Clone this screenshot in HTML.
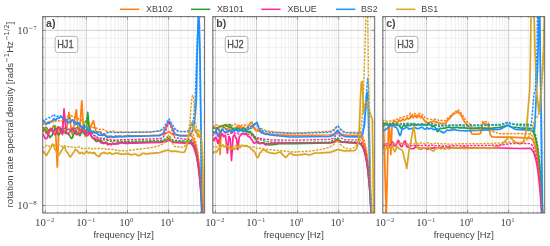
<!DOCTYPE html><html><head><meta charset="utf-8"><style>html,body{margin:0;padding:0;background:#fff;width:550px;height:246px;overflow:hidden}svg{display:block}</style></head><body>
<svg width="550" height="246" viewBox="0 0 550 246">
<rect width="550" height="246" fill="#fff"/>
<defs><clipPath id="c0"><rect x="42.7" y="16.6" width="161.9" height="196.4"/></clipPath></defs>
<path d="M43.42 16.6V213.0M57.67 16.6V213.0M64.91 16.6V213.0M70.04 16.6V213.0M74.03 16.6V213.0M77.28 16.6V213.0M80.03 16.6V213.0M82.42 16.6V213.0M84.52 16.6V213.0M98.77 16.6V213.0M106.01 16.6V213.0M111.14 16.6V213.0M115.13 16.6V213.0M118.38 16.6V213.0M121.13 16.6V213.0M123.52 16.6V213.0M125.62 16.6V213.0M139.87 16.6V213.0M147.11 16.6V213.0M152.24 16.6V213.0M156.23 16.6V213.0M159.48 16.6V213.0M162.23 16.6V213.0M164.62 16.6V213.0M166.72 16.6V213.0M180.97 16.6V213.0M188.21 16.6V213.0M193.34 16.6V213.0M197.33 16.6V213.0M200.58 16.6V213.0M203.33 16.6V213.0M42.7 152.79H204.60000000000002M42.7 121.96H204.60000000000002M42.7 100.08H204.60000000000002M42.7 83.11H204.60000000000002M42.7 69.25H204.60000000000002M42.7 57.52H204.60000000000002M42.7 47.37H204.60000000000002M42.7 38.41H204.60000000000002" stroke="#ececec" stroke-width="0.8" fill="none"/>
<path d="M45.30 16.6V213.0M86.40 16.6V213.0M127.50 16.6V213.0M168.60 16.6V213.0M42.7 30.40H204.60000000000002M42.7 205.50H204.60000000000002" stroke="#c4c4c4" stroke-width="0.8" fill="none"/>
<g clip-path="url(#c0)" fill="none" stroke-linejoin="round" stroke-linecap="butt"><path d="M42.17 128.13 42.91 128.83 43.71 130.31 44.03 130.60 44.35 130.26 45.69 127.66 45.93 127.41 46.17 127.44 46.55 127.93 46.98 128.81 47.82 132.17 48.01 132.58 48.26 132.31 49.28 130.10 49.70 129.49 50.22 129.02 50.61 128.88 50.96 128.95 51.22 129.25 51.81 130.46 51.98 130.58 52.05 130.52 52.95 126.82 53.37 125.94 53.79 125.44 54.10 125.35 54.41 125.53 54.68 125.88 54.99 126.54 55.38 127.73 55.54 128.95 57.30 167.26 58.77 131.77 58.94 130.53 59.52 128.37 59.83 127.73 60.12 127.43 60.41 127.35 60.63 127.56 61.16 129.15 61.81 132.06 62.04 132.60 62.30 132.66 62.80 132.33 63.09 131.95 63.87 130.48 64.16 130.29 64.33 130.29 64.69 130.46 65.09 130.99 65.81 133.30 65.93 133.55 66.03 133.49 67.40 123.76 68.76 113.11 68.93 112.45 69.94 118.82 71.09 128.50 71.77 132.44 72.31 134.30 72.49 134.57 72.69 133.92 73.49 129.25 75.45 114.89 76.38 109.93 77.22 120.00 77.99 127.71 78.76 131.12 79.28 132.42 79.43 132.58 79.48 132.54 81.79 100.95 83.57 129.34 83.77 130.30 84.57 132.39 85.32 136.05 85.51 136.57 86.69 131.33 86.97 130.44 87.15 130.69 87.75 133.04 88.28 134.37 88.47 134.59 88.57 134.58 88.88 134.16 89.60 132.33 90.53 127.93 91.13 125.50 92.03 123.76 92.79 121.66 93.16 121.08 93.42 120.89 93.61 120.98 93.73 121.33 94.54 125.98 95.42 129.63 96.13 131.49 96.66 132.57 97.18 132.90 97.80 132.84 98.15 132.59 98.82 131.67 99.12 131.52 100.86 131.95 101.22 132.43 101.87 134.27 102.31 134.75 102.96 134.91 104.42 134.89 105.11 135.10 106.67 135.88 107.87 137.05 108.47 137.29 110.15 137.11 112.34 137.50 113.06 137.50 114.26 137.26 115.74 137.12 117.91 136.61 119.65 135.88 120.04 135.93 121.03 136.54 121.71 136.69 122.43 136.60 124.56 135.95 125.30 135.89 126.77 135.96 128.46 135.69 130.92 135.89 149.16 135.52 159.65 135.00 164.79 133.99 165.68 133.57 168.22 132.00 168.85 131.76 169.24 131.83 169.63 132.07 172.65 134.65 173.53 134.99 190.01 135.50 190.93 135.67 191.30 135.94 191.77 136.50 193.06 138.64 194.09 140.91 195.02 143.50 195.84 146.38 196.59 149.55 197.31 153.23 198.00 157.42 199.33 167.83 200.15 176.29 200.87 185.27 202.20 206.47 202.89 215.87" stroke="#ff7f0e" stroke-width="1.7" opacity="1"/><path d="M42.10 130.81 42.72 129.70 43.20 129.26 43.82 129.21 44.63 129.68 45.49 130.58 46.09 131.37 47.92 134.86 48.24 135.11 48.80 135.36 49.09 135.64 49.81 137.37 49.99 137.59 50.18 137.49 50.94 136.14 51.81 135.77 52.07 135.50 52.99 132.73 53.96 131.33 54.80 128.76 55.00 128.40 55.29 128.25 55.82 128.46 56.32 129.24 57.01 131.11 57.83 134.24 58.15 134.73 58.49 134.80 59.04 134.50 60.00 133.10 60.96 131.96 61.82 130.50 62.12 130.26 62.49 130.26 62.85 130.46 63.13 130.81 63.80 132.37 64.05 132.67 64.60 132.72 65.88 132.26 66.28 132.34 66.85 132.74 69.49 135.36 70.05 136.18 70.96 137.93 71.39 138.31 71.76 138.28 72.14 138.08 72.55 137.55 73.18 135.16 74.12 133.49 74.84 131.12 75.19 130.53 75.53 130.31 75.87 130.30 76.01 130.39 76.23 130.73 76.95 132.51 77.26 132.81 78.05 133.22 78.41 133.53 79.87 135.58 80.06 135.53 80.21 135.21 81.14 132.40 81.65 131.60 81.95 131.36 82.27 131.38 82.77 131.79 83.78 133.46 84.08 133.79 85.64 134.60 85.89 134.62 86.09 133.92 86.81 125.46 87.71 112.43 88.59 121.47 89.45 132.18 89.62 132.86 90.36 134.07 91.05 135.92 92.26 137.49 94.82 139.87 96.12 141.33 96.51 141.50 97.17 141.46 97.59 141.26 98.50 140.52 98.88 140.39 99.96 140.62 101.05 140.59 101.51 140.95 102.61 142.86 103.14 143.35 103.52 143.55 104.10 143.49 105.78 142.13 106.11 142.00 106.54 142.26 107.59 143.87 108.18 144.24 108.62 144.34 109.06 144.28 109.95 143.97 111.34 143.90 112.75 143.23 113.14 143.32 114.13 143.92 114.81 143.98 115.50 143.79 116.93 142.98 117.36 142.99 118.46 143.23 120.02 142.65 120.99 142.45 123.44 142.74 126.17 142.62 130.16 142.81 135.90 142.47 159.64 141.80 161.12 141.58 164.78 140.80 165.67 140.37 168.21 138.80 168.84 138.56 169.24 138.63 169.62 138.86 172.64 141.44 173.52 141.78 188.50 142.27 189.49 142.23 190.68 142.03 191.32 142.19 192.39 143.18 193.41 144.61 194.08 145.94 194.87 148.05 195.79 151.16 196.54 154.32 197.27 158.00 197.97 162.19 199.27 172.36 200.09 180.57 201.42 198.27 202.17 211.00 202.88 215.86" stroke="#2ca02c" stroke-width="1.7" opacity="1"/><path d="M42.12 133.18 43.90 135.93 44.95 138.17 45.26 138.51 45.64 138.72 46.25 138.68 46.99 138.11 47.37 137.50 48.53 133.95 49.44 131.62 49.99 130.51 50.67 129.54 50.93 129.38 51.16 129.52 51.89 130.98 53.03 132.21 54.19 134.11 54.71 134.56 55.22 134.65 55.78 134.02 56.31 132.91 56.97 131.02 57.81 127.91 58.23 127.39 58.80 127.26 59.18 127.44 59.59 127.97 60.58 131.03 61.54 132.78 62.23 134.32 62.44 134.57 62.57 133.67 64.01 108.94 65.58 125.71 66.38 132.91 66.52 133.52 66.72 133.66 67.39 133.48 68.32 133.69 68.64 133.54 71.35 129.75 71.89 129.33 72.28 129.25 72.77 129.54 73.44 130.53 73.76 130.84 74.75 131.17 75.04 131.44 75.82 133.74 76.15 134.35 76.69 134.72 77.30 134.67 78.33 134.06 79.95 133.49 80.49 133.13 80.79 132.51 81.56 129.87 82.36 127.79 82.76 127.27 83.33 127.14 83.66 127.32 83.98 127.90 84.98 130.98 85.86 134.36 86.29 135.24 86.73 135.72 87.32 135.77 87.86 135.42 88.96 133.24 89.40 132.78 89.71 132.73 89.97 132.96 90.19 133.35 91.72 136.76 92.30 137.55 92.83 138.02 93.50 138.21 94.66 138.19 95.03 138.33 95.32 138.65 95.93 139.67 96.32 139.97 96.61 139.83 97.23 139.25 97.53 139.19 97.68 139.26 98.68 140.54 100.00 141.62 100.95 142.74 101.30 142.99 101.95 143.04 103.55 142.61 103.97 142.70 104.73 143.15 105.10 143.20 106.00 142.74 106.30 142.78 106.55 143.07 107.21 144.34 107.60 144.65 107.92 144.54 108.67 144.04 109.33 143.94 110.02 144.13 111.02 144.73 111.37 144.79 111.68 144.59 112.53 143.48 112.83 143.31 113.15 143.41 114.07 144.11 114.49 144.25 115.44 144.18 116.58 143.77 117.03 143.69 118.33 143.91 118.71 143.74 119.59 142.98 119.98 142.84 121.35 142.99 122.78 142.84 124.20 143.20 125.18 143.34 126.88 143.16 128.32 143.34 130.02 143.13 132.01 143.19 134.50 143.06 140.50 142.99 160.24 142.47 164.95 141.93 168.33 140.36 168.99 140.21 169.63 140.42 172.61 142.22 173.54 142.51 188.50 143.44 190.48 143.46 191.12 143.66 191.48 143.96 192.10 144.73 193.15 146.42 194.01 148.23 194.95 150.81 195.86 153.93 196.55 156.85 197.89 164.23 198.87 171.41 200.11 183.34 201.41 200.55 202.18 213.52 202.38 214.49 202.85 215.86" stroke="#ff2896" stroke-width="1.7" opacity="1"/><path d="M42.13 121.83 42.92 120.94 43.30 120.85 43.69 120.98 44.15 121.47 44.89 123.03 45.29 123.64 45.81 124.09 46.41 124.16 46.79 123.96 47.10 123.63 47.77 122.39 47.98 122.20 48.20 122.32 48.77 123.23 49.00 123.39 49.12 123.36 50.07 122.22 51.13 121.82 51.91 121.25 52.73 120.32 53.66 118.90 53.90 118.67 54.01 118.67 54.22 118.88 54.80 120.12 55.03 120.34 55.15 120.34 55.44 120.14 56.58 118.87 57.14 118.41 57.80 118.18 58.68 118.24 59.06 118.16 60.04 117.19 60.62 116.82 61.20 116.84 61.97 117.31 62.41 117.46 63.93 117.28 64.26 117.48 64.81 118.25 66.08 120.94 67.56 122.56 67.87 122.80 68.19 122.79 69.04 122.27 70.07 122.36 70.48 122.23 71.01 121.77 71.92 120.37 72.26 120.15 72.64 120.15 72.97 120.37 73.20 120.74 74.08 123.03 74.56 123.59 75.50 124.34 75.84 124.45 76.14 124.31 76.86 123.17 77.17 122.94 78.83 122.83 79.19 123.24 79.72 124.87 80.03 125.50 80.35 125.78 81.44 126.27 81.84 126.55 82.87 127.75 83.02 127.81 83.32 127.70 84.22 126.96 84.88 126.65 85.56 126.51 85.96 126.61 86.43 127.08 88.00 129.32 88.76 130.57 89.08 130.87 90.12 131.23 90.91 131.72 91.29 131.86 91.68 131.78 92.43 131.40 92.77 131.44 93.83 132.62 94.20 132.84 94.65 132.90 96.08 132.77 96.50 132.88 97.21 133.49 98.48 134.99 98.83 135.22 99.23 135.25 100.65 135.05 102.80 135.37 103.91 135.05 104.34 135.03 105.13 135.46 106.73 136.97 107.07 137.15 107.42 137.09 108.30 136.38 108.70 136.23 110.08 136.36 111.24 136.21 111.69 136.30 113.22 137.03 113.90 137.14 114.48 136.90 115.30 136.07 115.64 135.92 116.01 136.01 117.01 136.59 117.47 136.69 121.20 136.57 122.68 136.66 123.91 136.58 125.37 136.69 127.03 136.29 128.02 136.20 131.50 136.34 149.50 136.01 158.73 135.56 159.94 135.39 160.59 135.06 162.63 133.62 163.51 132.78 166.65 125.72 168.54 121.93 168.77 121.55 168.99 121.39 169.21 121.53 169.44 121.89 171.44 125.90 174.26 132.84 174.66 133.43 175.03 133.71 179.33 135.69 180.52 135.98 187.51 135.97 188.42 135.69 190.09 134.60 190.85 133.98 191.24 133.38 193.08 129.00 193.49 127.83 195.35 114.21 196.30 99.75 197.21 55.51 198.09 25.27 198.70 13.44 199.30 25.20 200.01 56.44 201.20 139.94 201.80 215.86" stroke="#1e90ff" stroke-width="1.7" opacity="1"/><path d="M42.20 150.94 42.89 150.89 43.41 151.25 45.90 154.95 46.32 155.39 46.57 155.38 46.89 154.90 47.85 152.88 50.24 148.78 51.24 146.76 52.23 144.51 52.56 144.18 52.82 144.31 53.11 144.64 53.75 145.69 54.90 149.47 55.15 149.79 55.86 150.15 56.12 150.47 57.16 153.24 57.75 154.33 58.19 154.83 58.79 154.96 59.33 154.67 59.68 154.07 60.68 151.79 61.97 149.96 63.16 147.77 63.81 147.07 64.35 146.82 64.62 146.93 64.80 147.28 65.62 150.14 65.92 150.81 67.96 153.29 69.39 156.16 69.91 156.61 70.31 156.74 70.66 156.65 70.95 156.35 72.63 153.60 74.00 151.83 75.02 150.13 75.52 149.66 75.86 149.54 76.16 149.68 76.95 150.77 78.03 151.35 78.91 153.01 79.42 153.36 79.85 153.38 80.30 153.24 81.50 152.45 81.86 152.33 82.16 152.45 82.83 153.36 83.17 153.67 83.58 153.82 84.02 153.81 84.44 153.63 84.82 153.34 86.10 151.55 86.45 151.27 86.81 151.16 87.23 151.45 87.80 152.50 88.10 152.85 88.67 153.11 89.06 153.03 89.87 152.36 90.20 152.34 90.95 152.72 91.99 152.95 92.94 153.63 93.19 153.49 93.90 152.42 94.18 152.36 94.50 152.55 94.96 153.09 95.91 154.76 96.24 154.99 97.27 155.33 98.53 156.45 99.03 156.66 99.49 156.33 99.91 155.73 100.77 153.70 100.98 153.40 101.26 153.35 101.79 153.56 102.16 153.57 102.54 153.38 103.62 152.45 103.93 152.34 104.21 152.50 104.72 153.22 104.99 153.44 105.28 153.39 105.78 153.06 106.14 152.99 107.33 153.63 107.74 153.75 108.12 153.67 109.15 152.79 109.78 152.68 110.36 152.97 111.42 153.96 111.85 154.15 112.57 154.26 113.52 154.11 115.25 153.19 116.19 153.02 117.86 153.35 119.01 153.38 119.41 153.54 120.12 154.12 120.50 154.27 121.81 154.06 123.00 154.25 123.74 154.26 125.42 153.88 127.88 153.62 128.81 153.86 130.60 154.72 131.28 154.86 134.18 154.22 134.89 154.15 135.58 154.32 138.27 155.62 138.92 155.77 139.54 155.56 142.35 153.51 142.97 153.21 143.65 153.24 145.79 153.87 146.52 153.91 159.19 152.58 160.41 152.33 164.41 150.91 167.80 150.13 168.74 150.29 171.79 151.36 172.52 151.39 174.49 151.10 175.23 151.09 180.13 152.00 183.57 152.37 183.96 152.24 184.41 151.75 185.65 149.59 186.11 148.44 188.06 139.66 190.50 126.12 191.30 123.27 191.46 122.95 191.66 122.91 192.17 123.54 192.55 124.44 193.50 129.55 193.70 129.35 194.45 127.43 194.65 127.95 195.50 132.56 195.70 132.35 196.32 130.61 196.45 130.43 196.55 130.57 197.50 136.55 197.65 136.32 198.32 133.77 198.49 133.42 198.65 133.77 199.45 137.49 199.52 137.58 199.70 137.50 200.32 136.47 200.41 136.42 200.55 136.55 201.46 141.84 202.51 160.55 203.20 190.05 203.60 215.80" stroke="#daa520" stroke-width="1.7" opacity="1"/><path d="M42.20 124.09 42.90 124.33 43.28 124.30 43.61 124.07 44.61 122.81 44.99 122.71 46.37 122.89 47.08 122.75 47.51 122.54 48.92 121.55 49.58 121.27 50.20 121.30 50.97 121.80 51.37 121.94 52.91 121.67 54.09 121.96 54.80 122.03 55.40 121.83 56.57 120.33 57.17 120.07 57.62 120.07 58.06 120.21 59.01 120.89 59.40 121.02 60.68 120.68 61.57 120.77 61.96 120.72 62.29 120.46 63.02 119.51 63.57 119.02 64.81 118.19 66.14 117.64 67.51 116.35 67.93 116.23 69.13 116.17 70.80 115.76 71.27 115.73 71.95 115.92 73.06 116.49 74.86 117.74 75.29 117.85 76.24 117.83 76.96 117.95 77.61 118.27 78.77 119.07 79.90 119.16 80.55 119.40 81.31 120.02 82.34 121.41 83.03 122.13 83.62 122.57 85.13 123.27 86.72 124.81 87.58 125.26 88.77 125.49 89.46 125.75 92.20 127.45 92.64 127.60 94.80 127.86 96.20 127.88 97.84 128.86 99.50 129.35 100.23 129.39 101.94 129.23 103.17 129.42 104.31 129.87 105.92 131.01 106.61 131.27 107.33 131.42 110.82 131.47 112.76 131.10 113.50 131.08 114.21 131.22 115.30 131.76 115.99 131.94 120.47 131.79 121.96 131.91 123.92 132.21 125.40 132.14 127.13 132.26 149.62 132.00 159.56 131.02 161.22 130.51 164.23 129.30 164.86 128.93 165.46 128.19 168.56 122.79 168.81 122.47 169.06 122.39 169.56 122.98 172.67 128.38 173.14 128.92 173.77 129.26 179.18 131.20 180.13 131.44 189.87 131.50 190.59 131.56 191.01 131.73 191.83 132.59 193.11 134.73 194.13 137.01 195.05 139.61 195.87 142.49 196.61 145.65 197.33 149.33 198.09 154.02 199.42 164.69 200.77 179.88 201.54 191.10 202.89 215.81" stroke="#ff7f0e" stroke-width="1.4" stroke-dasharray="2.4 1.2" opacity="1"/><path d="M42.21 127.99 43.23 127.86 45.06 127.17 45.53 127.13 45.95 127.22 46.31 127.48 47.29 128.52 48.36 128.91 48.74 129.14 49.73 130.47 50.03 130.68 50.21 130.70 50.58 130.56 51.14 130.12 52.52 128.37 53.67 127.44 54.71 126.41 55.10 126.18 55.53 126.10 55.99 126.17 56.43 126.35 59.84 128.70 60.25 128.77 61.36 128.60 62.50 128.74 64.07 128.19 64.75 128.16 65.15 128.34 66.33 129.47 66.76 129.61 68.46 129.78 68.88 129.97 69.82 130.68 70.22 130.80 70.90 130.68 71.78 130.24 73.64 128.71 75.02 128.46 76.36 127.86 77.02 127.69 77.62 127.90 78.80 128.78 80.31 129.65 80.99 129.89 81.67 129.89 82.06 129.70 82.36 129.36 83.37 127.65 84.69 124.14 86.20 119.64 87.15 117.91 87.60 117.40 87.75 117.56 87.85 117.96 89.80 129.78 89.96 130.49 90.16 130.91 91.36 132.06 92.68 134.17 93.65 135.29 94.49 135.77 96.10 136.17 96.44 136.44 97.42 137.79 97.79 137.99 98.88 138.26 100.05 139.00 101.44 139.04 103.50 139.77 106.71 140.16 109.32 141.01 111.01 141.37 111.48 141.34 112.62 140.98 113.09 140.93 115.53 141.10 116.93 141.44 118.34 141.27 119.75 141.48 121.13 141.22 122.72 141.62 125.18 141.46 127.17 141.59 131.39 141.24 133.13 141.26 159.12 140.52 160.84 140.28 163.99 139.46 164.91 139.13 165.72 138.57 168.35 136.29 168.90 136.01 169.25 136.10 169.59 136.38 172.59 139.70 172.97 139.99 173.40 140.17 188.09 141.14 189.08 141.11 190.51 140.79 191.15 140.88 192.03 141.68 193.15 143.33 193.99 145.15 194.93 147.73 195.84 150.85 196.58 154.01 197.96 161.64 199.27 171.80 200.08 180.01 201.42 197.71 202.19 210.69 202.88 215.84" stroke="#2ca02c" stroke-width="1.4" stroke-dasharray="2.4 1.2" opacity="1"/><path d="M42.15 130.16 44.30 132.28 44.92 132.66 45.59 132.81 46.14 132.59 47.09 131.22 47.42 130.91 48.64 130.37 48.94 130.03 49.77 128.55 50.25 128.22 50.66 128.25 51.28 128.55 52.71 130.22 53.30 130.62 53.71 130.74 54.23 130.53 55.23 129.21 55.61 128.97 56.68 128.60 57.81 127.39 58.18 127.20 58.61 127.20 59.24 127.46 59.58 127.78 60.77 129.33 61.37 129.67 61.86 129.67 62.03 129.37 62.15 128.68 64.00 112.43 65.85 126.84 66.01 127.53 66.24 127.87 67.49 128.43 68.48 129.09 68.91 129.20 69.84 129.15 71.12 129.41 71.45 129.24 72.32 128.18 72.87 128.00 73.78 128.16 74.92 128.20 75.31 128.41 76.22 129.18 76.65 129.35 78.60 129.48 80.00 129.88 81.15 130.05 82.36 131.01 82.68 131.00 83.52 130.34 83.69 130.27 84.05 130.31 86.19 131.91 87.05 132.37 87.70 132.41 88.53 132.12 89.11 132.24 90.09 132.94 92.09 133.91 94.25 135.58 96.26 136.45 97.47 137.65 98.08 138.05 98.53 138.21 99.00 138.26 100.46 138.07 101.18 138.08 101.61 138.23 102.55 138.90 102.91 138.98 103.28 138.83 104.22 138.16 104.89 138.09 105.79 138.39 106.99 139.26 107.88 139.65 108.60 139.77 110.06 139.72 111.98 140.18 112.96 140.27 113.94 140.15 115.54 139.63 116.00 139.66 117.41 140.06 118.14 140.11 119.95 139.59 121.14 139.73 122.61 139.68 123.84 139.81 125.56 139.70 129.30 139.82 131.52 139.58 134.02 139.56 159.25 138.62 160.46 138.38 162.53 137.51 163.16 137.17 163.61 136.64 166.39 128.90 168.69 122.04 169.01 121.51 169.17 121.69 169.40 122.31 174.15 136.54 174.58 137.35 174.93 137.59 175.63 137.75 188.01 139.46 189.00 139.54 190.46 139.42 190.91 139.49 191.30 139.71 191.64 140.04 192.79 141.67 193.69 143.45 194.52 145.54 195.77 149.60 196.68 153.49 197.92 160.38 198.77 166.57 200.15 179.75 201.43 196.95 202.18 209.68 202.88 215.84" stroke="#ff2896" stroke-width="1.4" stroke-dasharray="2.4 1.2" opacity="1"/><path d="M42.15 120.85 42.73 120.38 43.11 120.26 44.22 120.45 44.88 120.35 46.11 119.23 48.75 117.52 49.14 117.49 49.90 117.73 50.26 117.64 52.89 115.46 53.66 114.56 53.92 114.39 54.25 114.65 54.77 115.73 55.17 116.33 55.54 116.62 55.94 116.77 56.60 116.67 57.95 116.06 58.89 115.75 59.61 115.63 60.08 115.67 60.52 115.84 60.89 116.12 61.81 117.55 62.29 118.08 62.90 118.33 64.02 118.14 64.68 118.22 65.05 118.46 65.73 119.42 66.01 119.66 66.54 119.58 68.15 118.46 68.79 118.14 69.49 118.06 70.13 118.27 71.22 119.23 72.94 120.18 77.70 123.82 79.54 125.84 80.27 126.51 80.89 126.85 82.33 127.13 83.02 127.38 83.60 127.80 84.43 128.68 84.82 128.91 86.19 129.21 89.42 130.82 89.80 130.80 90.55 130.38 90.93 130.33 92.16 130.90 93.35 131.11 94.74 131.58 96.21 131.76 98.40 132.19 99.07 132.48 101.00 133.61 101.69 133.83 102.43 133.89 105.14 133.53 107.47 132.70 108.20 132.60 109.68 132.58 111.58 132.14 112.56 132.22 114.25 132.58 116.97 132.72 117.96 132.65 119.63 132.31 121.25 132.64 122.95 132.41 127.19 132.31 130.43 132.44 132.92 132.28 149.42 132.10 151.16 131.96 159.58 130.91 160.04 130.75 160.66 130.36 162.80 128.65 163.51 127.96 166.26 123.50 168.58 119.38 168.82 119.07 169.07 119.00 169.43 119.40 171.62 123.30 174.34 127.79 175.32 128.92 177.82 131.32 178.24 131.51 178.96 131.59 185.45 131.59 186.67 131.37 188.75 130.60 189.12 130.30 189.58 129.73 191.53 126.83 191.98 125.96 193.82 116.90 194.06 115.17 195.20 99.71 196.51 55.73 197.79 25.26 198.50 13.44 199.20 25.20 199.80 56.19 200.50 110.19 201.50 215.86" stroke="#1e90ff" stroke-width="1.4" stroke-dasharray="2.4 1.2" opacity="1"/><path d="M42.21 147.96 42.96 147.74 44.99 146.88 45.59 146.47 46.84 145.29 47.24 145.09 47.66 145.07 48.04 145.23 48.77 146.13 49.11 146.40 49.76 146.49 50.48 146.36 51.30 145.89 52.83 144.31 53.45 144.09 54.06 144.28 55.06 145.32 55.86 145.77 56.52 145.70 58.36 145.01 59.08 144.94 60.01 145.16 61.41 146.14 62.32 146.45 63.01 146.40 64.57 145.70 65.16 145.62 65.49 145.83 66.24 146.71 66.82 146.92 68.50 146.68 69.93 146.87 71.36 146.81 72.93 147.32 74.36 147.26 76.28 147.63 77.00 147.57 78.31 147.00 78.73 146.96 79.39 147.18 82.30 148.60 83.74 148.95 84.94 148.81 86.96 147.89 87.66 147.78 88.59 147.98 89.61 148.62 90.01 148.76 91.07 148.50 91.47 148.51 92.55 149.29 92.91 149.40 93.27 149.27 94.24 148.61 94.68 148.48 95.63 148.56 96.71 149.06 97.11 149.15 97.51 149.03 98.30 148.53 98.72 148.38 101.89 148.70 104.25 148.31 104.67 148.46 105.90 149.26 106.80 149.59 107.24 149.58 108.28 149.09 108.71 149.02 110.06 149.37 111.51 149.36 112.71 149.56 114.15 149.50 114.61 149.61 116.20 150.30 117.15 150.54 119.39 150.60 121.09 150.87 122.52 150.71 123.97 150.91 124.95 150.90 129.39 150.25 130.87 150.18 139.80 149.03 149.74 148.01 156.78 146.30 158.46 145.81 162.40 144.22 163.39 143.53 166.47 139.93 168.59 135.42 168.79 135.05 168.99 134.90 169.18 135.07 169.36 135.45 171.65 141.25 173.92 145.42 174.46 146.21 174.83 146.45 175.52 146.60 182.73 147.36 183.66 147.36 184.02 147.17 184.28 146.81 185.91 143.18 187.75 137.73 188.05 136.53 189.99 121.91 191.50 100.21 192.35 95.82 192.46 95.49 192.62 95.43 193.24 96.52 193.55 97.71 194.39 107.92 195.29 121.64 196.31 127.04 196.67 128.49 197.39 130.49 197.57 130.59 197.67 130.52 198.31 129.49 198.50 129.43 198.71 129.87 199.32 132.24 199.54 132.60 199.73 132.46 200.27 131.54 200.44 131.41 200.50 131.47 201.50 138.19 202.51 155.41 203.80 215.85" stroke="#daa520" stroke-width="1.4" stroke-dasharray="2.4 1.2" opacity="1"/></g>
<path d="M43.42 213.0v-1.1M43.42 16.6v1.1M45.30 213.0v-3.0M45.30 16.6v3.0M57.67 213.0v-1.1M57.67 16.6v1.1M64.91 213.0v-1.1M64.91 16.6v1.1M70.04 213.0v-1.1M70.04 16.6v1.1M74.03 213.0v-1.1M74.03 16.6v1.1M77.28 213.0v-1.1M77.28 16.6v1.1M80.03 213.0v-1.1M80.03 16.6v1.1M82.42 213.0v-1.1M82.42 16.6v1.1M84.52 213.0v-1.1M84.52 16.6v1.1M86.40 213.0v-3.0M86.40 16.6v3.0M98.77 213.0v-1.1M98.77 16.6v1.1M106.01 213.0v-1.1M106.01 16.6v1.1M111.14 213.0v-1.1M111.14 16.6v1.1M115.13 213.0v-1.1M115.13 16.6v1.1M118.38 213.0v-1.1M118.38 16.6v1.1M121.13 213.0v-1.1M121.13 16.6v1.1M123.52 213.0v-1.1M123.52 16.6v1.1M125.62 213.0v-1.1M125.62 16.6v1.1M127.50 213.0v-3.0M127.50 16.6v3.0M139.87 213.0v-1.1M139.87 16.6v1.1M147.11 213.0v-1.1M147.11 16.6v1.1M152.24 213.0v-1.1M152.24 16.6v1.1M156.23 213.0v-1.1M156.23 16.6v1.1M159.48 213.0v-1.1M159.48 16.6v1.1M162.23 213.0v-1.1M162.23 16.6v1.1M164.62 213.0v-1.1M164.62 16.6v1.1M166.72 213.0v-1.1M166.72 16.6v1.1M168.60 213.0v-3.0M168.60 16.6v3.0M180.97 213.0v-1.1M180.97 16.6v1.1M188.21 213.0v-1.1M188.21 16.6v1.1M193.34 213.0v-1.1M193.34 16.6v1.1M197.33 213.0v-1.1M197.33 16.6v1.1M200.58 213.0v-1.1M200.58 16.6v1.1M203.33 213.0v-1.1M203.33 16.6v1.1M42.7 205.50h3.0M204.60000000000002 205.50h-3.0M42.7 152.79h1.1M204.60000000000002 152.79h-1.1M42.7 121.96h1.1M204.60000000000002 121.96h-1.1M42.7 100.08h1.1M204.60000000000002 100.08h-1.1M42.7 83.11h1.1M204.60000000000002 83.11h-1.1M42.7 69.25h1.1M204.60000000000002 69.25h-1.1M42.7 57.52h1.1M204.60000000000002 57.52h-1.1M42.7 47.37h1.1M204.60000000000002 47.37h-1.1M42.7 38.41h1.1M204.60000000000002 38.41h-1.1M42.7 30.40h3.0M204.60000000000002 30.40h-3.0" stroke="#777" stroke-width="0.8" fill="none"/>
<rect x="42.7" y="16.6" width="161.9" height="196.4" fill="none" stroke="#6a6a6a" stroke-width="1"/>
<text x="46.1" y="27.2" font-family="Liberation Sans, Arial, sans-serif" font-weight="bold" font-size="10.6" fill="#444">a)</text>
<rect x="55.1" y="36.4" width="22.7" height="16.1" rx="2.6" fill="#fff" stroke="#aaa" stroke-width="0.9"/>
<text x="65.4" y="47.7" text-anchor="middle" font-family="Liberation Sans, Arial, sans-serif" font-size="10.3" fill="#505050" stroke="#505050" stroke-width="0.3" textLength="16.4" lengthAdjust="spacingAndGlyphs">HJ1</text>
<text x="44.70" y="225.8" text-anchor="middle" font-family="Liberation Serif, serif" font-size="10.8" fill="#444">10<tspan font-size="6.0" dy="-3.8" font-family="DejaVu Sans, sans-serif">−</tspan><tspan font-size="6.8">2</tspan></text>
<text x="85.80" y="225.8" text-anchor="middle" font-family="Liberation Serif, serif" font-size="10.8" fill="#444">10<tspan font-size="6.0" dy="-3.8" font-family="DejaVu Sans, sans-serif">−</tspan><tspan font-size="6.8">1</tspan></text>
<text x="126.30" y="225.8" text-anchor="middle" font-family="Liberation Serif, serif" font-size="10.8" fill="#444">10<tspan font-size="6.8" dy="-3.8">0</tspan></text>
<text x="167.40" y="225.8" text-anchor="middle" font-family="Liberation Serif, serif" font-size="10.8" fill="#444">10<tspan font-size="6.8" dy="-3.8">1</tspan></text>
<text x="123.65" y="237.8" text-anchor="middle" font-family="Liberation Sans, Arial, sans-serif" font-size="9.35" fill="#444">frequency [Hz]</text>
<defs><clipPath id="c1"><rect x="212.8" y="16.6" width="161.9" height="196.4"/></clipPath></defs>
<path d="M213.52 16.6V213.0M227.77 16.6V213.0M235.01 16.6V213.0M240.14 16.6V213.0M244.13 16.6V213.0M247.38 16.6V213.0M250.13 16.6V213.0M252.52 16.6V213.0M254.62 16.6V213.0M268.87 16.6V213.0M276.11 16.6V213.0M281.24 16.6V213.0M285.23 16.6V213.0M288.48 16.6V213.0M291.23 16.6V213.0M293.62 16.6V213.0M295.72 16.6V213.0M309.97 16.6V213.0M317.21 16.6V213.0M322.34 16.6V213.0M326.33 16.6V213.0M329.58 16.6V213.0M332.33 16.6V213.0M334.72 16.6V213.0M336.82 16.6V213.0M351.07 16.6V213.0M358.31 16.6V213.0M363.44 16.6V213.0M367.43 16.6V213.0M370.68 16.6V213.0M373.43 16.6V213.0M212.8 152.79H374.70000000000005M212.8 121.96H374.70000000000005M212.8 100.08H374.70000000000005M212.8 83.11H374.70000000000005M212.8 69.25H374.70000000000005M212.8 57.52H374.70000000000005M212.8 47.37H374.70000000000005M212.8 38.41H374.70000000000005" stroke="#ececec" stroke-width="0.8" fill="none"/>
<path d="M215.40 16.6V213.0M256.50 16.6V213.0M297.60 16.6V213.0M338.70 16.6V213.0M212.8 30.40H374.70000000000005M212.8 205.50H374.70000000000005" stroke="#c4c4c4" stroke-width="0.8" fill="none"/>
<g clip-path="url(#c1)" fill="none" stroke-linejoin="round" stroke-linecap="butt"><path d="M212.21 128.42 212.69 128.38 213.02 128.19 213.82 126.55 214.00 126.40 214.19 126.57 214.73 127.87 215.11 128.47 215.69 128.86 216.56 129.20 216.91 129.17 217.06 129.07 217.76 127.65 218.04 127.42 218.32 127.83 219.04 129.67 219.24 131.14 220.11 154.55 221.18 131.66 221.30 130.93 221.55 130.23 222.29 128.66 222.73 128.08 223.51 127.57 224.14 127.58 225.68 128.30 226.05 128.59 226.77 129.52 227.28 129.75 227.66 129.61 227.99 129.31 228.79 127.61 228.97 127.41 229.06 127.43 229.98 129.49 230.36 130.13 231.02 130.79 231.62 130.90 232.08 130.56 232.76 128.77 233.01 128.41 233.19 128.55 233.77 129.79 234.02 130.10 234.35 130.18 234.90 129.89 235.31 129.32 236.54 126.88 236.90 126.41 237.03 126.37 237.29 126.52 238.66 128.45 238.89 128.61 238.99 128.57 239.15 128.30 239.68 126.45 239.91 126.10 240.21 125.96 240.35 125.99 240.57 126.25 241.18 128.60 241.48 129.25 241.74 129.55 241.98 129.60 242.17 129.36 242.93 127.37 243.22 127.11 243.60 127.06 244.17 127.35 244.65 127.89 245.13 128.75 245.77 130.32 246.03 130.58 246.29 130.19 247.19 127.88 247.93 126.31 249.45 124.75 250.73 122.64 251.05 122.33 251.41 122.21 251.74 122.32 252.06 122.85 253.47 127.59 253.75 127.94 254.52 128.41 254.85 128.73 255.90 130.57 256.21 130.71 257.20 130.61 258.52 131.19 259.19 131.34 259.62 131.25 260.42 130.90 260.77 130.95 261.08 131.23 262.60 133.16 262.97 133.44 263.39 133.59 263.85 133.57 264.91 133.27 265.30 133.37 266.05 133.86 266.46 133.94 267.84 133.57 268.55 133.49 270.66 134.03 279.61 134.96 293.84 135.58 329.09 135.01 330.57 134.85 333.70 134.03 334.54 133.53 337.04 131.49 337.62 131.28 338.18 131.54 340.44 133.49 341.04 133.91 341.96 134.24 344.63 134.89 346.12 135.04 358.86 135.46 359.58 135.55 360.00 135.71 360.82 136.58 362.11 138.72 363.13 141.00 364.05 143.59 364.87 146.48 365.61 149.64 366.33 153.32 367.02 157.52 368.34 167.93 369.16 176.39 369.86 185.11 371.21 206.57 371.89 215.80" stroke="#ff7f0e" stroke-width="1.7" opacity="1"/><path d="M212.16 132.86 212.96 132.34 213.38 132.31 214.52 132.55 215.10 132.36 215.76 131.39 216.90 128.98 217.19 128.78 217.74 128.76 218.06 128.62 219.00 127.34 220.64 126.34 221.31 126.12 221.76 126.14 222.98 126.82 223.26 126.65 224.09 125.50 224.63 124.99 225.24 124.63 225.91 124.54 226.50 124.79 227.53 126.37 227.94 126.63 228.25 126.27 228.92 124.76 229.22 124.52 229.62 124.50 230.25 124.77 230.93 125.44 232.06 128.44 232.64 129.22 233.21 129.60 235.11 129.97 235.78 129.95 236.14 129.74 237.20 128.47 237.59 128.27 238.00 128.25 239.99 129.21 240.84 130.51 241.07 130.61 241.32 130.41 242.57 128.65 243.05 128.37 243.98 128.79 244.98 129.10 245.27 129.41 246.27 131.10 246.76 131.63 247.16 131.87 247.84 132.01 248.78 132.02 249.18 131.85 249.84 131.37 250.14 131.40 250.56 131.86 251.79 133.69 253.01 134.39 253.29 135.01 253.97 137.14 254.69 138.42 254.99 138.69 255.71 138.81 255.99 138.98 256.22 139.57 256.83 142.23 257.00 142.64 257.28 142.90 257.93 143.00 261.63 142.89 263.15 142.53 263.77 142.78 264.86 143.68 265.25 143.77 266.14 143.61 266.84 143.68 267.49 143.97 268.63 144.87 269.05 145.01 269.76 145.01 271.48 144.73 273.22 144.61 276.42 144.04 280.38 143.52 294.38 143.59 329.62 142.99 331.33 142.67 333.96 141.91 334.57 141.51 336.88 139.61 337.26 139.37 337.64 139.29 338.21 139.56 340.66 141.65 341.54 142.01 358.97 143.42 360.15 143.70 361.11 144.46 362.20 145.82 363.19 147.55 364.04 149.63 364.82 152.27 365.57 155.43 366.87 162.56 367.79 169.25 369.05 181.18 369.88 191.40 371.18 212.11 371.86 215.80" stroke="#2ca02c" stroke-width="1.7" opacity="1"/><path d="M212.19 138.11 212.95 138.73 213.79 140.42 213.97 140.59 214.21 140.27 215.03 137.98 215.32 137.62 215.65 137.38 215.94 137.36 216.06 137.46 216.48 138.51 217.82 143.27 218.01 143.57 218.18 143.19 219.04 139.84 219.93 138.05 220.85 135.47 221.40 134.42 221.91 134.16 222.44 134.39 222.78 134.97 223.30 136.32 223.64 136.65 224.13 136.41 225.14 135.46 225.38 135.37 225.46 135.45 225.62 136.25 227.40 153.16 228.89 137.12 228.99 136.52 229.04 136.44 229.18 136.51 230.04 138.42 230.32 139.62 231.51 160.56 232.24 150.19 232.95 137.96 233.08 136.98 233.40 136.04 233.90 135.03 234.16 134.92 234.48 135.07 235.02 135.81 235.65 137.89 235.86 138.15 236.39 138.35 236.54 138.65 237.80 149.57 239.22 137.31 239.50 136.65 239.93 136.04 240.95 134.96 241.69 134.00 242.20 133.71 243.56 133.95 244.53 133.98 244.96 133.86 245.82 133.27 246.09 133.31 247.13 135.13 247.87 136.12 248.45 136.55 249.58 136.98 250.13 137.38 251.05 138.82 252.54 140.82 253.66 142.75 254.08 143.17 254.46 143.18 254.88 143.01 257.59 141.40 257.92 141.34 258.28 141.72 258.93 143.02 259.24 143.37 259.63 143.62 260.29 143.72 261.92 143.23 262.87 143.21 263.76 143.57 265.09 144.65 265.97 144.99 266.63 144.89 268.44 143.66 269.08 143.50 270.26 143.59 271.74 143.45 274.48 143.46 280.23 143.20 293.48 143.01 329.97 142.68 333.93 142.16 336.95 140.99 337.64 140.87 338.33 141.03 340.62 142.00 341.58 142.22 358.80 143.14 359.53 143.22 359.97 143.37 360.36 143.64 360.85 144.18 361.98 145.83 362.99 147.84 363.89 150.16 364.75 153.04 365.51 156.20 366.83 163.33 367.80 170.26 369.03 181.94 369.87 192.16 371.17 212.87 371.31 213.85 371.84 215.80" stroke="#ff2896" stroke-width="1.7" opacity="1"/><path d="M212.18 131.11 213.00 131.73 213.80 132.60 214.17 132.76 214.57 132.71 214.95 132.48 215.81 131.45 215.93 131.39 216.16 131.49 216.90 132.94 217.83 136.27 218.10 136.62 218.49 136.34 218.99 135.53 219.93 132.47 220.19 132.12 221.03 131.43 221.77 129.66 222.09 129.30 222.38 129.41 222.70 129.71 223.96 131.45 224.93 131.79 225.71 132.51 225.97 132.62 226.19 132.44 226.80 131.23 227.02 131.05 227.25 131.16 227.78 131.80 228.06 131.92 228.35 131.77 229.03 131.14 229.63 130.88 230.20 131.05 231.50 132.46 231.98 132.65 232.26 132.46 232.95 131.59 234.07 131.25 235.00 130.25 235.40 130.06 236.53 129.86 237.06 130.03 237.82 131.45 238.26 131.75 238.64 131.67 238.99 131.40 239.76 130.20 240.23 129.87 240.63 129.91 241.28 130.21 241.89 130.64 242.78 131.49 243.38 131.80 243.97 131.73 244.78 130.70 245.02 130.58 245.26 130.75 245.90 131.58 246.20 131.63 246.86 131.08 247.74 129.89 248.26 129.39 249.83 128.31 250.96 128.20 251.22 127.93 251.76 126.90 252.02 126.63 252.85 126.69 253.15 126.53 254.27 124.72 255.64 123.76 256.71 122.50 256.93 122.39 257.14 122.78 257.81 125.67 258.66 127.46 259.94 130.71 260.80 132.46 261.08 132.69 261.25 132.71 262.28 132.42 262.72 132.46 263.59 132.88 265.21 133.99 267.12 134.52 268.74 134.38 270.06 134.89 270.53 134.99 272.52 135.09 274.72 135.49 290.15 136.98 294.65 136.99 329.39 136.50 330.83 136.18 333.17 135.30 333.82 134.97 334.50 134.29 337.14 130.67 337.57 130.36 337.86 130.48 338.14 130.81 340.39 134.10 341.02 134.84 341.86 135.31 344.67 136.35 346.39 136.55 358.63 136.95 359.85 136.89 360.49 136.58 361.85 135.51 362.34 134.98 362.54 134.55 364.43 125.26 365.58 110.31 366.47 95.59 366.74 94.12 367.26 92.43 368.30 110.28 370.18 189.26 371.00 215.89" stroke="#1e90ff" stroke-width="1.7" opacity="1"/><path d="M212.12 152.18 212.70 152.95 212.96 153.10 213.21 152.96 213.80 152.01 214.11 151.76 214.71 151.79 215.78 152.22 216.35 152.09 216.98 151.39 217.92 149.40 219.14 148.46 220.71 145.99 221.04 145.77 222.00 145.72 222.68 145.27 222.96 145.18 223.20 145.37 223.87 146.59 224.18 146.85 224.77 146.87 225.12 146.64 225.83 145.75 226.16 145.59 226.54 145.66 227.64 146.04 227.99 146.29 228.99 148.22 229.45 148.78 229.82 149.04 230.23 149.14 230.66 149.05 231.83 148.26 232.45 148.14 233.03 148.43 233.81 149.52 234.04 149.60 234.98 148.38 235.26 148.42 235.85 148.81 236.11 148.73 237.26 146.66 237.70 146.12 238.01 145.96 238.50 146.19 239.61 147.44 240.05 147.63 240.33 147.42 241.34 146.09 241.93 145.69 242.38 145.54 243.05 145.58 244.42 146.11 245.12 146.24 245.56 146.17 246.39 145.83 246.77 145.85 248.02 146.76 249.37 146.86 249.98 147.18 251.25 148.98 251.91 149.72 252.66 150.36 253.73 150.96 254.09 151.27 254.67 152.06 255.30 153.13 256.66 156.61 257.27 157.35 257.75 157.64 258.01 157.53 258.32 156.97 259.93 152.84 260.23 152.57 260.78 152.34 261.09 152.07 261.81 150.56 262.07 150.20 262.44 149.97 262.90 149.86 263.62 149.88 264.07 150.01 266.01 150.96 267.13 151.89 267.54 152.11 270.40 152.86 274.55 153.65 275.03 153.66 275.73 153.50 279.44 152.06 280.07 152.08 280.80 152.64 285.10 157.15 285.61 157.47 285.95 157.39 286.27 157.11 289.37 153.54 289.71 153.23 290.07 153.08 290.67 153.24 293.43 154.92 294.33 155.21 299.80 154.81 304.74 154.08 305.72 154.15 309.15 154.82 309.88 154.88 310.59 154.74 314.31 153.29 315.26 153.04 320.50 152.97 329.97 152.43 336.73 149.85 337.68 149.62 338.40 149.67 344.04 150.80 345.27 150.96 353.76 150.56 354.49 150.49 354.92 150.34 355.46 149.90 356.25 148.93 356.69 148.34 357.01 147.68 358.49 139.83 359.50 124.87 360.40 100.14 361.16 83.91 361.39 82.70 361.90 81.64 362.14 81.43 362.28 82.36 362.99 94.84 363.61 113.54 365.02 105.04 366.28 100.76 366.43 100.46 366.57 100.46 367.99 105.03 369.57 112.10 370.86 115.62 372.02 118.39 372.29 119.58 373.00 160.07 373.60 215.81" stroke="#daa520" stroke-width="1.7" opacity="1"/><path d="M212.19 126.10 212.88 126.40 213.28 126.43 213.64 126.25 214.48 125.42 214.88 125.19 215.58 125.04 216.80 124.99 217.21 125.10 217.54 125.38 218.57 126.97 219.13 127.17 221.27 126.98 222.35 126.47 223.71 126.18 225.00 125.26 226.28 125.29 227.42 124.79 227.74 124.94 228.64 125.97 229.02 126.12 232.11 125.69 232.69 125.39 233.61 124.30 234.21 124.04 234.65 124.07 235.06 124.25 236.10 125.22 236.50 125.41 237.20 125.46 238.62 125.25 239.05 125.36 239.88 125.79 240.33 125.89 240.80 125.85 241.23 125.69 242.34 124.80 242.97 124.67 244.65 124.99 246.19 125.57 247.76 125.25 248.71 125.42 249.81 125.97 251.06 127.16 251.67 127.55 252.60 127.83 255.81 128.15 256.47 128.43 257.66 129.30 258.56 129.61 259.01 129.59 260.63 129.01 261.34 128.92 263.48 129.46 264.77 130.15 265.22 130.29 266.41 130.44 267.59 130.81 269.77 131.30 271.50 131.47 272.96 131.74 280.43 132.41 293.91 132.98 310.15 132.39 329.62 131.39 330.78 131.00 333.68 129.54 334.48 128.96 336.92 126.82 337.29 126.57 337.66 126.50 338.21 126.79 341.54 129.80 344.34 131.89 345.20 132.31 346.42 132.40 359.16 132.38 359.63 132.41 360.06 132.55 360.42 132.83 361.04 133.60 362.21 135.51 363.15 137.56 364.06 140.15 364.88 143.03 365.62 146.20 366.34 149.88 367.10 154.57 368.42 165.23 369.78 180.42 370.53 191.40 371.89 215.83" stroke="#ff7f0e" stroke-width="1.4" stroke-dasharray="2.4 1.2" opacity="1"/><path d="M212.17 128.87 213.02 128.31 213.45 128.16 215.14 128.13 217.07 127.72 217.64 127.31 218.45 126.41 219.05 126.10 219.75 126.08 220.85 126.46 221.24 126.50 221.61 126.33 222.34 125.72 222.75 125.49 223.44 125.36 223.90 125.43 225.25 125.97 227.20 126.22 227.64 126.38 228.66 126.99 229.98 127.22 230.35 127.47 231.23 128.31 232.08 128.78 232.79 128.94 234.53 128.98 235.75 129.17 236.41 129.45 237.19 130.01 237.59 130.15 238.96 129.93 239.93 129.90 241.33 129.62 241.79 129.69 242.43 130.01 243.41 131.06 243.76 131.29 244.15 131.31 245.71 130.74 246.12 130.72 246.47 130.91 247.22 131.81 247.56 132.09 249.13 132.50 251.37 133.55 252.21 134.08 253.33 135.07 255.02 136.88 255.88 137.34 257.05 137.64 257.44 137.83 257.74 138.16 258.44 139.44 258.89 139.87 260.50 139.87 261.23 139.97 264.06 140.94 266.01 141.25 268.41 141.94 269.14 142.05 272.13 142.24 276.13 142.23 294.13 142.59 329.37 142.09 330.08 141.96 330.53 141.77 336.56 138.22 337.39 137.87 337.77 137.95 338.11 138.22 340.72 141.20 341.11 141.46 341.56 141.58 359.03 142.09 359.75 142.18 360.19 142.35 361.27 143.35 362.28 144.77 363.21 146.53 364.04 148.62 364.81 151.26 365.56 154.42 366.94 162.05 368.23 171.96 369.08 180.42 370.41 198.12 371.18 211.10 371.87 215.81" stroke="#2ca02c" stroke-width="1.4" stroke-dasharray="2.4 1.2" opacity="1"/><path d="M212.21 135.05 212.95 135.16 213.36 135.07 215.18 133.50 215.83 133.17 216.53 133.03 216.99 133.07 217.37 133.26 218.44 134.83 218.76 135.09 219.16 135.15 219.85 135.00 220.98 134.54 222.12 134.45 222.50 134.32 222.81 134.03 223.48 133.04 223.97 132.73 225.07 132.84 226.16 132.78 226.49 133.01 227.35 134.13 227.72 134.36 228.16 134.43 228.88 134.34 229.58 134.11 230.20 133.73 230.93 133.13 231.31 132.98 232.83 133.28 234.53 133.04 236.27 132.97 237.47 133.24 239.30 134.48 239.90 134.73 240.30 134.66 241.10 134.18 241.78 133.96 242.46 134.01 243.41 134.63 243.78 134.75 244.16 134.64 245.19 134.08 246.16 133.97 247.63 134.15 249.75 134.84 251.10 134.88 251.43 135.10 252.22 136.29 252.52 136.58 252.91 136.68 253.83 136.67 254.53 136.84 255.65 137.38 257.24 138.44 257.59 138.44 258.58 137.65 258.93 137.62 260.07 138.36 260.52 138.54 262.72 138.88 264.62 139.39 268.35 139.44 270.28 139.87 272.77 140.00 294.51 140.19 329.75 139.37 331.41 138.87 333.28 138.16 333.91 137.81 334.57 137.10 337.06 133.67 337.35 133.36 337.64 133.26 338.06 133.61 340.46 137.09 341.09 137.83 341.92 138.36 344.84 139.75 346.05 139.90 359.05 139.91 359.98 140.08 360.37 140.33 360.88 140.87 362.14 142.72 363.14 144.73 364.03 147.07 364.86 149.95 365.60 153.11 366.94 160.49 368.25 170.65 369.09 179.11 370.43 196.81 371.19 209.79 371.89 215.89" stroke="#ff2896" stroke-width="1.4" stroke-dasharray="2.4 1.2" opacity="1"/><path d="M212.17 128.87 213.00 128.30 213.42 128.19 214.77 128.38 215.69 128.21 216.13 128.22 216.77 128.50 218.26 129.41 219.56 130.50 219.91 130.67 220.24 130.59 220.89 130.00 221.22 129.81 221.59 129.86 222.60 130.39 223.05 130.45 223.51 130.37 223.91 130.16 224.98 129.22 225.40 129.09 225.85 129.11 226.45 129.41 227.82 130.81 228.44 131.17 228.88 131.26 229.57 131.15 231.21 130.64 232.14 129.85 233.43 128.35 233.79 128.09 234.22 127.99 234.89 128.11 236.28 128.95 236.71 128.97 238.12 128.62 238.56 128.62 238.95 128.80 239.93 129.67 240.29 129.66 241.28 129.25 242.56 129.42 243.77 128.84 245.18 128.89 245.88 128.75 246.30 128.52 247.56 127.46 249.43 127.15 250.09 126.84 251.30 126.01 253.15 125.43 253.96 124.89 254.87 123.78 256.04 123.24 256.88 122.40 256.98 122.41 257.16 122.66 258.15 125.67 259.76 128.44 260.05 128.69 260.77 128.69 261.09 128.82 262.01 130.17 262.73 130.83 263.34 131.10 264.63 130.89 266.29 131.69 268.50 131.78 270.15 132.28 271.12 132.45 275.37 132.59 294.09 133.58 329.32 132.31 330.50 132.03 333.81 130.31 334.49 129.61 337.12 125.99 337.56 125.66 337.84 125.77 338.13 126.09 340.52 129.58 341.16 130.33 343.87 132.09 344.96 132.67 346.17 132.84 358.16 133.24 359.40 133.25 359.86 133.16 360.62 132.62 362.48 130.61 362.88 130.01 363.12 129.07 365.49 109.97 366.99 85.27 367.79 78.44 368.39 83.91 368.51 85.90 369.20 129.90 370.80 215.84" stroke="#1e90ff" stroke-width="1.4" stroke-dasharray="2.4 1.2" opacity="1"/><path d="M212.16 146.15 212.91 146.81 213.29 146.99 213.69 146.96 214.75 146.63 216.14 146.94 216.85 146.96 217.46 146.70 218.38 145.59 218.94 145.20 219.88 145.06 222.09 145.12 222.55 145.19 223.64 145.69 224.34 145.88 224.82 145.89 225.95 145.59 226.37 145.60 227.61 146.21 229.69 146.74 230.09 146.71 230.82 146.25 231.16 146.13 231.49 146.26 232.34 147.03 232.97 147.22 233.59 147.05 234.50 145.98 235.01 145.70 236.35 145.99 237.08 146.01 239.46 145.36 241.87 145.16 243.24 145.35 244.60 145.08 245.30 145.23 247.88 146.08 249.27 147.04 249.71 147.21 250.44 147.30 251.43 147.26 253.36 146.85 254.08 146.84 255.01 147.12 256.64 148.21 258.06 148.63 259.03 148.63 260.54 147.96 260.96 147.93 262.33 148.37 263.54 148.57 265.16 149.15 267.81 149.70 269.79 149.65 271.54 149.75 275.50 150.25 284.96 151.19 293.17 151.92 294.92 151.95 310.39 151.13 320.03 149.67 329.01 147.45 329.72 147.23 330.37 146.89 333.58 144.51 334.49 143.65 337.00 140.89 337.48 140.56 337.77 140.64 338.03 140.95 339.72 143.70 340.36 144.46 344.24 147.59 345.30 148.21 349.20 149.03 350.16 149.06 353.91 147.71 354.98 147.15 355.76 146.21 358.00 142.90 359.93 138.03 360.13 136.80 361.97 120.15 364.01 79.71 366.17 6.24 366.24 5.54 366.42 5.21 366.75 5.06 367.14 5.09 367.43 5.28 367.52 5.45 367.62 6.36 369.01 112.35 371.00 189.83 371.79 215.81" stroke="#daa520" stroke-width="1.4" stroke-dasharray="2.4 1.2" opacity="1"/></g>
<path d="M213.52 213.0v-1.1M213.52 16.6v1.1M215.40 213.0v-3.0M215.40 16.6v3.0M227.77 213.0v-1.1M227.77 16.6v1.1M235.01 213.0v-1.1M235.01 16.6v1.1M240.14 213.0v-1.1M240.14 16.6v1.1M244.13 213.0v-1.1M244.13 16.6v1.1M247.38 213.0v-1.1M247.38 16.6v1.1M250.13 213.0v-1.1M250.13 16.6v1.1M252.52 213.0v-1.1M252.52 16.6v1.1M254.62 213.0v-1.1M254.62 16.6v1.1M256.50 213.0v-3.0M256.50 16.6v3.0M268.87 213.0v-1.1M268.87 16.6v1.1M276.11 213.0v-1.1M276.11 16.6v1.1M281.24 213.0v-1.1M281.24 16.6v1.1M285.23 213.0v-1.1M285.23 16.6v1.1M288.48 213.0v-1.1M288.48 16.6v1.1M291.23 213.0v-1.1M291.23 16.6v1.1M293.62 213.0v-1.1M293.62 16.6v1.1M295.72 213.0v-1.1M295.72 16.6v1.1M297.60 213.0v-3.0M297.60 16.6v3.0M309.97 213.0v-1.1M309.97 16.6v1.1M317.21 213.0v-1.1M317.21 16.6v1.1M322.34 213.0v-1.1M322.34 16.6v1.1M326.33 213.0v-1.1M326.33 16.6v1.1M329.58 213.0v-1.1M329.58 16.6v1.1M332.33 213.0v-1.1M332.33 16.6v1.1M334.72 213.0v-1.1M334.72 16.6v1.1M336.82 213.0v-1.1M336.82 16.6v1.1M338.70 213.0v-3.0M338.70 16.6v3.0M351.07 213.0v-1.1M351.07 16.6v1.1M358.31 213.0v-1.1M358.31 16.6v1.1M363.44 213.0v-1.1M363.44 16.6v1.1M367.43 213.0v-1.1M367.43 16.6v1.1M370.68 213.0v-1.1M370.68 16.6v1.1M373.43 213.0v-1.1M373.43 16.6v1.1M212.8 205.50h3.0M374.70000000000005 205.50h-3.0M212.8 152.79h1.1M374.70000000000005 152.79h-1.1M212.8 121.96h1.1M374.70000000000005 121.96h-1.1M212.8 100.08h1.1M374.70000000000005 100.08h-1.1M212.8 83.11h1.1M374.70000000000005 83.11h-1.1M212.8 69.25h1.1M374.70000000000005 69.25h-1.1M212.8 57.52h1.1M374.70000000000005 57.52h-1.1M212.8 47.37h1.1M374.70000000000005 47.37h-1.1M212.8 38.41h1.1M374.70000000000005 38.41h-1.1M212.8 30.40h3.0M374.70000000000005 30.40h-3.0" stroke="#777" stroke-width="0.8" fill="none"/>
<rect x="212.8" y="16.6" width="161.9" height="196.4" fill="none" stroke="#6a6a6a" stroke-width="1"/>
<text x="216.20000000000002" y="27.2" font-family="Liberation Sans, Arial, sans-serif" font-weight="bold" font-size="10.6" fill="#444">b)</text>
<rect x="225.20000000000002" y="36.4" width="22.7" height="16.1" rx="2.6" fill="#fff" stroke="#aaa" stroke-width="0.9"/>
<text x="235.50000000000003" y="47.7" text-anchor="middle" font-family="Liberation Sans, Arial, sans-serif" font-size="10.3" fill="#505050" stroke="#505050" stroke-width="0.3" textLength="16.4" lengthAdjust="spacingAndGlyphs">HJ2</text>
<text x="214.80" y="225.8" text-anchor="middle" font-family="Liberation Serif, serif" font-size="10.8" fill="#444">10<tspan font-size="6.0" dy="-3.8" font-family="DejaVu Sans, sans-serif">−</tspan><tspan font-size="6.8">2</tspan></text>
<text x="255.90" y="225.8" text-anchor="middle" font-family="Liberation Serif, serif" font-size="10.8" fill="#444">10<tspan font-size="6.0" dy="-3.8" font-family="DejaVu Sans, sans-serif">−</tspan><tspan font-size="6.8">1</tspan></text>
<text x="296.40" y="225.8" text-anchor="middle" font-family="Liberation Serif, serif" font-size="10.8" fill="#444">10<tspan font-size="6.8" dy="-3.8">0</tspan></text>
<text x="337.50" y="225.8" text-anchor="middle" font-family="Liberation Serif, serif" font-size="10.8" fill="#444">10<tspan font-size="6.8" dy="-3.8">1</tspan></text>
<text x="293.75" y="237.8" text-anchor="middle" font-family="Liberation Sans, Arial, sans-serif" font-size="9.35" fill="#444">frequency [Hz]</text>
<defs><clipPath id="c2"><rect x="382.8" y="16.6" width="161.9" height="196.4"/></clipPath></defs>
<path d="M383.52 16.6V213.0M397.77 16.6V213.0M405.01 16.6V213.0M410.14 16.6V213.0M414.13 16.6V213.0M417.38 16.6V213.0M420.13 16.6V213.0M422.52 16.6V213.0M424.62 16.6V213.0M438.87 16.6V213.0M446.11 16.6V213.0M451.24 16.6V213.0M455.23 16.6V213.0M458.48 16.6V213.0M461.23 16.6V213.0M463.62 16.6V213.0M465.72 16.6V213.0M479.97 16.6V213.0M487.21 16.6V213.0M492.34 16.6V213.0M496.33 16.6V213.0M499.58 16.6V213.0M502.33 16.6V213.0M504.72 16.6V213.0M506.82 16.6V213.0M521.07 16.6V213.0M528.31 16.6V213.0M533.44 16.6V213.0M537.43 16.6V213.0M540.68 16.6V213.0M543.43 16.6V213.0M382.8 152.79H544.7M382.8 121.96H544.7M382.8 100.08H544.7M382.8 83.11H544.7M382.8 69.25H544.7M382.8 57.52H544.7M382.8 47.37H544.7M382.8 38.41H544.7" stroke="#ececec" stroke-width="0.8" fill="none"/>
<path d="M385.40 16.6V213.0M426.50 16.6V213.0M467.60 16.6V213.0M508.70 16.6V213.0M382.8 30.40H544.7M382.8 205.50H544.7" stroke="#c4c4c4" stroke-width="0.8" fill="none"/>
<g clip-path="url(#c2)" fill="none" stroke-linejoin="round" stroke-linecap="butt"><path d="M382.20 122.57 382.63 122.64 383.04 123.09 383.40 123.98 383.53 124.96 386.30 215.55 388.47 127.11 388.61 125.88 389.17 124.46 389.23 124.42 389.31 124.59 389.36 125.24 390.80 154.56 392.18 123.84 392.33 123.15 392.59 122.77 394.15 121.58 394.76 121.28 395.16 121.30 395.72 121.66 396.60 122.49 397.11 122.67 397.45 122.49 397.91 121.97 398.74 120.21 399.04 119.90 399.25 120.06 399.87 120.97 400.39 121.15 400.81 121.01 401.40 120.60 402.90 118.90 403.15 118.96 403.74 119.86 404.21 120.18 404.82 120.04 405.64 119.51 406.90 117.91 407.16 117.92 408.06 118.82 408.47 118.93 408.91 118.87 409.51 118.52 409.97 117.97 410.80 115.70 411.05 115.41 411.24 115.61 412.00 117.08 412.31 117.43 412.67 117.65 413.01 117.66 413.32 117.43 414.57 115.65 414.98 115.37 415.23 115.53 416.43 117.31 416.73 117.58 417.00 117.61 417.23 117.36 417.98 115.86 418.27 115.51 418.57 115.35 418.87 115.46 419.16 115.77 420.22 117.41 420.49 117.65 420.99 117.53 421.81 116.88 422.08 116.92 423.22 118.96 425.09 121.29 425.89 121.86 428.36 122.91 428.80 122.96 429.24 122.85 431.08 121.71 431.49 121.63 432.15 121.72 432.57 121.67 433.49 121.05 433.87 120.95 434.27 121.06 436.17 122.15 437.35 122.34 438.69 122.86 440.36 123.20 442.14 123.97 442.72 123.89 443.41 123.33 443.76 123.19 444.12 123.28 444.68 123.62 445.05 123.70 445.59 123.41 446.24 122.69 447.22 120.69 447.62 120.08 449.85 118.12 452.53 114.85 454.75 113.29 456.54 112.69 457.63 111.79 457.94 111.65 458.22 111.79 459.05 112.92 460.14 113.89 460.75 114.68 463.86 120.65 464.52 121.70 467.11 125.05 469.28 127.11 469.90 127.87 470.24 128.78 471.36 133.12 471.71 133.66 472.10 133.85 474.29 134.19 475.29 134.25 479.51 133.88 479.97 133.79 480.33 133.60 480.55 133.25 480.68 132.80 482.09 125.70 483.24 123.24 483.50 122.94 483.85 122.87 484.71 123.18 486.02 123.89 487.74 125.33 488.38 126.06 488.70 126.97 490.26 134.30 490.56 134.96 491.42 136.19 491.90 136.71 492.30 136.91 493.25 137.01 499.25 137.09 510.25 137.12 528.73 138.04 530.41 138.05 530.83 138.17 531.21 138.43 532.05 139.34 533.03 140.78 533.92 142.57 534.68 144.69 535.43 147.33 536.18 150.49 536.90 154.17 538.18 162.57 539.08 170.27 540.34 184.46 541.10 195.44 541.80 207.42 542.49 215.84" stroke="#ff7f0e" stroke-width="1.7" opacity="1"/><path d="M382.19 126.91 383.06 126.37 383.75 125.66 384.14 125.04 384.74 123.70 385.10 123.34 385.43 123.41 386.66 124.11 388.50 124.72 388.93 124.68 389.75 124.30 390.16 124.25 391.69 124.90 392.33 125.02 392.71 124.88 393.54 124.12 393.91 124.01 394.51 124.22 395.93 125.10 396.37 125.14 397.32 125.04 398.03 125.14 399.07 125.76 400.83 127.84 401.15 128.14 401.46 128.25 401.86 127.92 403.06 126.06 403.56 125.54 403.90 125.33 404.25 125.37 404.98 125.85 405.39 125.98 406.06 125.88 407.48 125.10 407.86 125.13 408.88 125.60 409.33 125.60 410.00 125.37 411.40 124.41 412.07 124.25 412.68 124.43 413.67 125.29 414.02 125.27 414.94 124.79 416.29 125.22 416.67 125.07 417.45 124.56 418.13 124.40 418.84 124.48 419.75 124.78 420.43 124.79 421.11 124.54 422.32 123.90 422.66 123.99 423.42 124.81 423.74 125.03 425.09 124.79 426.04 125.35 426.46 125.45 426.89 125.38 427.33 125.19 428.41 124.27 428.76 124.13 429.11 124.24 430.07 124.93 431.14 125.48 432.38 126.79 432.52 126.82 432.81 126.66 433.40 125.98 433.69 125.79 434.15 125.98 435.02 127.14 436.67 130.49 437.20 131.30 437.60 131.59 438.00 131.28 439.53 128.74 439.94 128.26 440.28 128.21 441.10 128.53 441.80 128.63 442.51 128.50 443.64 128.10 445.24 128.20 448.48 127.06 449.18 127.10 450.78 127.73 451.23 127.81 452.59 127.60 453.49 127.80 453.94 127.81 454.85 127.57 456.27 127.54 457.39 127.28 457.82 127.36 458.67 127.75 459.14 127.86 461.61 127.78 464.85 127.87 466.79 128.21 469.78 128.36 480.01 127.92 490.00 128.37 499.94 127.37 507.11 125.20 507.81 125.08 508.47 125.25 510.78 126.69 511.71 126.97 519.91 127.88 530.12 128.38 530.76 128.56 531.13 128.85 531.77 129.60 532.85 131.28 533.83 133.30 534.67 135.66 535.49 138.54 536.22 141.71 536.94 145.39 537.70 150.08 538.94 160.00 539.77 168.46 541.11 186.66 542.47 212.37 542.65 213.60 543.15 215.81" stroke="#2ca02c" stroke-width="1.7" opacity="1"/><path d="M382.21 147.64 382.68 147.65 383.00 147.49 383.94 145.60 384.26 145.30 384.68 145.13 385.64 145.10 386.32 145.33 387.92 146.66 388.27 146.65 389.69 145.95 390.03 145.68 390.29 145.30 391.52 142.86 392.09 142.10 392.36 141.89 392.60 141.96 392.90 142.50 393.93 145.53 394.38 145.94 394.98 145.93 395.52 145.52 395.97 144.94 397.88 141.15 398.23 140.57 398.43 140.40 398.68 140.72 399.45 143.31 400.04 144.95 400.69 146.01 401.38 146.63 401.91 146.69 402.17 146.43 404.02 142.11 404.56 141.30 404.88 140.99 405.15 140.86 405.42 141.19 406.25 144.79 406.71 146.21 407.03 146.80 407.37 147.01 408.52 147.11 408.94 147.24 410.11 148.31 412.45 148.74 412.93 148.74 413.62 148.56 415.41 147.26 415.83 147.04 416.26 146.94 416.70 147.01 418.76 147.81 421.13 149.04 421.68 148.90 422.49 148.06 423.04 147.80 425.57 148.40 426.88 149.01 427.33 149.11 428.27 148.95 430.04 148.14 432.49 148.19 434.33 147.67 436.76 147.97 437.47 147.85 438.38 147.52 439.10 147.44 439.82 147.54 440.94 147.98 441.33 148.03 441.69 147.86 442.46 147.01 442.76 146.82 442.89 146.83 443.16 147.04 444.07 148.42 444.60 148.69 445.48 148.46 447.03 147.29 447.93 147.04 448.62 147.14 449.68 147.70 450.12 147.83 451.54 147.71 453.27 147.84 455.50 147.72 457.19 147.97 458.42 147.89 459.91 147.95 462.59 147.47 465.08 147.45 467.56 147.67 480.05 147.99 499.80 148.00 519.80 148.49 530.25 148.45 530.69 148.53 531.44 149.07 532.52 150.43 533.40 151.94 534.20 153.77 534.90 155.91 535.62 158.57 536.28 161.49 537.11 165.91 538.34 174.32 539.66 186.75 540.42 195.97 541.79 215.86" stroke="#ff2896" stroke-width="1.7" opacity="1"/><path d="M382.11 131.42 382.66 130.57 382.96 130.31 383.30 130.27 383.89 130.40 384.30 130.36 384.90 130.00 385.79 129.19 386.97 128.72 388.05 127.23 389.31 126.73 390.59 125.69 391.02 125.55 391.96 125.50 393.09 125.30 393.60 125.58 394.60 126.88 394.98 127.05 395.64 127.13 396.03 127.29 396.64 127.99 397.96 130.09 399.12 133.91 399.70 135.26 399.99 135.60 400.27 135.28 400.89 133.69 401.83 129.81 402.13 129.22 402.69 128.94 404.06 128.79 405.62 127.65 406.28 127.37 406.75 127.31 407.20 127.37 407.57 127.59 408.40 128.75 408.85 129.07 410.06 128.66 411.98 128.58 414.35 127.82 415.30 127.65 415.93 127.81 417.05 128.65 417.70 128.72 419.36 128.23 421.10 127.33 421.54 127.21 422.00 127.25 422.66 127.51 423.03 127.80 424.15 129.06 424.75 129.27 425.21 129.21 425.64 129.04 426.82 127.89 427.13 127.74 427.45 127.87 428.43 128.81 428.81 128.91 429.24 128.82 430.59 128.24 431.22 128.17 431.61 128.35 432.93 129.44 433.52 129.71 433.93 129.66 435.25 129.12 437.12 128.76 437.68 129.04 438.69 130.09 439.95 130.85 440.94 131.59 442.27 132.09 443.26 132.71 443.63 132.82 444.02 132.71 444.60 132.30 445.75 131.34 446.72 130.25 447.28 130.01 448.91 130.38 449.64 130.44 451.08 130.17 452.31 130.06 453.50 129.77 454.23 129.73 455.95 129.96 457.57 130.48 459.02 130.48 460.97 130.76 463.22 130.77 466.21 130.93 499.41 129.31 500.13 129.17 500.81 128.89 503.94 127.32 506.79 125.76 507.67 125.49 508.35 125.65 510.63 126.65 514.49 128.96 515.40 129.28 524.87 129.80 528.61 130.16 530.09 130.36 532.71 131.03 533.36 130.87 533.96 130.46 534.29 130.13 534.52 129.73 534.66 128.78 537.48 70.35 538.29 40.11 538.61 15.87 538.96 6.13 539.05 5.47 539.20 5.25 539.30 5.25 539.44 5.47 539.53 6.13 539.80 16.37 540.20 56.12 541.50 130.36 542.50 215.83" stroke="#1e90ff" stroke-width="1.7" opacity="1"/><path d="M382.21 147.57 382.69 147.58 383.01 147.77 383.95 149.64 384.28 149.88 384.68 149.91 385.28 149.62 385.78 149.10 386.94 146.92 387.43 146.44 387.96 146.32 388.27 146.53 389.17 147.60 389.57 147.77 389.97 147.74 390.49 147.35 391.71 145.57 391.93 145.40 392.12 145.54 392.29 145.91 393.50 149.43 394.40 151.20 394.73 151.59 394.93 151.50 395.12 151.17 396.76 146.76 397.04 146.39 397.27 146.50 398.27 147.82 398.98 148.51 401.77 150.04 402.37 150.78 403.05 152.37 404.22 158.25 405.51 162.29 406.63 167.91 406.80 168.35 408.98 150.31 410.28 144.97 412.60 131.93 413.78 126.43 413.92 126.96 414.58 131.90 415.50 139.85 416.88 147.19 417.14 147.70 418.01 147.92 418.89 148.90 419.26 149.06 420.14 148.87 422.28 147.74 422.68 147.76 423.69 148.24 424.13 148.26 426.24 147.61 428.42 147.37 428.85 147.48 429.40 147.90 430.05 148.66 430.72 149.68 431.03 149.98 432.02 150.32 432.72 150.86 433.06 150.99 433.41 150.88 433.77 150.60 435.19 148.88 435.71 148.41 436.07 148.29 437.03 148.64 437.37 148.60 438.26 147.63 438.56 147.45 438.88 147.54 440.14 148.60 440.57 148.79 441.00 148.85 441.40 148.72 442.35 148.10 442.78 148.03 444.68 148.40 445.41 148.34 446.62 148.08 447.59 148.08 448.03 148.22 449.01 148.83 449.38 148.86 450.64 148.01 451.03 148.00 452.08 148.30 452.48 148.19 453.26 147.70 453.67 147.58 454.11 147.64 455.49 148.15 456.18 148.26 457.48 147.89 458.94 148.30 460.54 148.00 464.23 148.44 467.22 148.45 479.71 148.02 489.94 148.43 490.91 148.22 498.57 145.93 499.96 145.41 500.75 144.82 504.65 141.31 508.38 137.64 508.74 137.37 509.12 137.28 509.93 137.63 511.99 139.04 515.56 142.53 516.37 143.05 519.02 143.75 519.98 143.88 521.41 143.53 522.74 142.96 523.03 142.63 523.23 142.20 524.45 138.14 526.39 129.86 529.67 90.25 530.40 60.01 530.99 16.52 531.57 5.80 531.79 5.23 532.33 5.04 532.92 5.16 533.22 5.65 534.17 15.82 535.00 49.81 535.80 70.05 536.29 89.54 539.00 112.36 540.24 99.53 542.52 69.61 543.42 49.38 544.00 29.89 544.60 5.17" stroke="#daa520" stroke-width="1.7" opacity="1"/><path d="M382.19 120.10 382.88 120.44 383.31 120.52 384.39 120.23 384.81 120.24 386.05 120.91 386.99 121.17 391.16 121.04 392.67 120.34 394.84 119.94 396.33 119.19 397.73 118.99 399.82 117.76 400.26 117.68 401.39 117.70 402.73 117.16 404.89 116.61 406.11 116.45 406.81 116.25 408.70 115.09 409.19 114.57 409.86 113.56 410.20 113.28 410.61 113.16 411.02 113.24 411.56 113.66 412.77 115.46 413.04 115.65 413.34 115.56 413.82 115.08 414.70 113.64 414.93 113.41 415.05 113.39 415.29 113.59 416.50 115.37 416.97 115.66 417.42 115.38 418.82 113.45 419.14 113.31 419.31 113.34 419.85 113.70 420.83 115.06 421.17 115.27 421.79 115.23 422.81 114.80 423.15 114.89 423.74 115.58 424.96 117.66 425.32 117.84 426.40 118.04 427.57 118.79 428.72 118.90 430.30 119.39 432.75 119.11 434.23 119.23 436.21 119.23 437.14 119.48 438.51 120.38 438.93 120.40 440.06 120.19 441.44 120.49 443.40 120.43 444.99 120.77 445.61 120.51 446.35 119.87 448.86 116.78 451.09 115.20 452.35 114.42 453.79 112.76 455.85 111.39 457.29 110.05 457.68 109.83 458.07 109.80 458.44 109.98 459.14 110.64 460.68 112.61 462.00 114.09 465.92 120.76 466.44 121.28 469.96 124.06 474.52 130.30 474.84 130.63 475.22 130.82 475.90 130.81 478.83 130.23 479.53 130.04 479.89 129.80 480.33 128.99 482.81 121.67 483.20 121.23 483.59 121.16 487.23 121.86 487.65 122.03 487.96 122.31 488.28 123.19 489.82 129.76 489.98 130.20 490.25 130.54 491.10 130.94 499.21 133.45 500.18 133.66 501.18 133.70 509.93 133.70 519.92 133.52 528.65 134.13 530.12 134.14 530.78 134.31 531.65 135.13 532.80 136.77 533.81 138.77 534.58 140.88 535.48 144.01 536.22 147.17 536.93 150.85 537.66 155.29 539.02 166.21 540.35 181.15 541.11 192.12 542.49 215.82" stroke="#ff7f0e" stroke-width="1.4" stroke-dasharray="2.4 1.2" opacity="1"/><path d="M382.20 123.08 382.93 123.29 383.37 123.30 384.62 122.83 386.04 123.32 387.32 122.87 388.03 122.84 388.75 122.99 390.59 123.74 391.27 123.89 391.71 123.82 392.56 123.44 393.00 123.36 394.63 123.76 395.36 123.81 396.99 123.36 397.71 123.33 400.09 123.87 400.81 123.78 402.49 123.33 402.96 123.31 403.67 123.46 405.50 124.11 406.13 123.97 407.42 123.30 408.38 123.15 409.10 123.25 410.98 123.88 411.44 123.95 413.07 123.53 414.03 123.46 414.48 123.58 415.52 124.19 416.21 124.37 417.19 124.35 419.92 124.05 423.89 124.41 424.88 124.34 426.60 124.02 428.36 123.23 428.80 123.17 430.47 123.48 432.94 123.50 435.52 124.35 437.18 124.40 438.70 125.05 440.65 125.10 442.57 125.48 443.01 125.43 444.26 124.93 444.67 125.02 445.49 125.40 445.89 125.40 446.88 124.87 447.29 124.80 448.86 125.18 451.28 124.73 453.71 125.10 454.19 125.10 455.59 124.80 457.20 125.11 458.90 124.84 460.39 124.77 462.85 125.06 466.34 124.95 479.58 125.00 499.33 124.51 500.57 124.38 504.49 123.60 507.82 122.66 508.50 122.79 510.75 123.83 511.72 124.01 529.94 124.48 530.40 124.51 530.81 124.68 531.82 125.72 533.02 127.62 533.97 129.65 534.85 132.26 535.92 136.37 536.78 140.53 537.57 145.21 538.19 149.67 539.11 157.62 540.40 172.31 541.74 193.52 542.49 208.75 543.19 215.87" stroke="#2ca02c" stroke-width="1.4" stroke-dasharray="2.4 1.2" opacity="1"/><path d="M382.19 144.40 383.35 143.91 385.79 143.75 387.42 144.05 388.83 143.81 391.27 143.92 392.89 144.29 393.57 144.14 395.35 143.29 396.04 143.18 398.48 143.57 401.17 143.39 401.60 143.52 402.55 144.23 402.96 144.42 405.12 144.46 407.07 144.89 408.54 145.10 409.93 145.56 411.63 145.59 413.09 145.82 417.05 145.80 418.41 145.30 419.12 145.18 420.36 145.26 422.58 145.62 423.32 145.63 424.05 145.52 425.60 145.00 426.00 145.10 427.19 145.84 427.88 145.90 428.58 145.73 429.84 145.06 430.28 145.00 431.44 145.21 432.83 145.13 434.02 145.83 434.43 145.93 436.03 145.61 439.25 145.69 439.99 145.78 441.39 146.21 441.88 146.25 442.61 146.16 444.00 145.70 444.47 145.63 445.44 145.74 446.87 146.12 447.35 146.14 449.07 145.97 451.05 146.07 452.70 145.71 454.40 145.81 456.88 145.55 461.10 145.87 462.83 145.71 465.08 145.65 467.32 145.71 499.57 145.20 509.96 143.73 519.44 143.23 528.68 143.65 530.15 143.64 530.60 143.73 530.99 143.95 531.51 144.47 532.55 145.87 533.51 147.62 534.27 149.47 535.29 152.81 536.06 155.97 537.39 163.09 538.37 170.03 539.63 181.96 540.47 192.17 541.77 212.88 541.91 213.87 542.44 215.81" stroke="#ff2896" stroke-width="1.4" stroke-dasharray="2.4 1.2" opacity="1"/><path d="M382.19 125.11 382.88 125.45 383.54 125.57 384.71 125.35 386.42 125.40 388.37 125.10 390.03 125.39 392.48 125.38 392.95 125.32 394.24 124.90 394.63 125.02 395.39 125.52 395.76 125.59 397.06 124.84 397.45 124.85 398.51 125.29 398.96 125.30 401.36 124.88 402.71 124.40 403.15 124.41 404.05 124.69 404.52 124.73 407.19 124.21 408.41 124.08 409.37 124.28 411.44 125.04 412.39 124.95 414.25 124.41 415.86 124.88 416.59 125.00 419.08 124.95 421.31 125.12 422.30 125.01 423.99 124.64 424.47 124.64 425.65 124.86 426.12 124.82 428.21 124.10 428.66 124.05 429.35 124.23 430.90 125.00 431.58 125.22 435.50 125.08 435.94 125.23 437.34 126.20 438.50 126.52 442.60 125.84 443.06 125.88 444.17 126.23 444.62 126.20 445.75 125.87 448.17 126.17 449.84 125.85 451.50 125.91 452.66 125.58 453.14 125.53 455.54 125.96 457.20 125.65 459.68 125.65 465.41 126.03 499.39 125.20 500.84 124.88 506.88 122.51 507.57 122.37 508.26 122.51 510.55 123.49 511.50 123.80 520.04 125.66 528.53 125.97 530.25 125.73 531.06 125.38 531.27 125.03 531.42 124.08 533.78 95.43 533.97 94.46 535.17 90.38 535.33 89.15 536.99 50.19 537.40 16.44 537.75 6.45 537.92 5.33 538.19 5.11 538.71 5.16 538.93 5.44 539.05 6.11 539.50 16.09 540.20 60.09 541.00 120.08 541.80 215.82" stroke="#1e90ff" stroke-width="1.4" stroke-dasharray="2.4 1.2" opacity="1"/><path d="M382.21 144.03 383.22 144.22 384.81 144.86 386.03 144.93 387.21 144.61 388.63 143.64 389.29 143.30 389.99 143.07 390.97 142.94 391.72 142.98 392.44 143.13 394.19 144.05 394.83 144.26 395.24 144.19 396.25 143.58 396.95 143.36 398.66 143.33 400.08 143.15 401.00 143.42 402.44 144.26 403.74 144.19 404.92 144.72 405.31 144.66 406.34 144.08 407.04 143.85 409.01 143.67 410.93 143.29 411.37 143.35 412.60 143.99 414.54 144.02 416.17 144.24 417.48 143.46 417.88 143.48 418.51 143.66 418.93 143.64 420.21 143.04 420.93 142.92 421.64 143.00 422.78 143.44 423.75 143.62 424.46 143.54 425.84 143.09 428.28 142.87 428.74 142.91 430.09 143.46 430.81 143.63 433.77 143.72 434.47 143.63 435.81 143.08 436.53 143.03 437.22 143.20 438.26 143.80 438.70 143.94 439.16 143.95 441.10 143.64 441.55 143.71 442.60 144.24 443.04 144.32 443.74 144.19 445.55 143.56 445.99 143.62 447.32 144.12 448.06 144.14 449.77 143.96 451.71 144.24 459.68 143.75 467.42 143.79 489.67 143.50 499.91 143.00 509.86 142.04 519.84 142.45 520.82 142.29 524.94 141.26 525.63 141.03 526.03 140.78 526.78 139.82 529.92 135.02 533.21 124.53 535.89 118.34 536.30 117.74 537.67 116.29 538.18 115.46 539.33 112.42 539.59 111.21 541.03 99.55 542.29 80.09 543.37 60.62 545.00 5.17" stroke="#daa520" stroke-width="1.4" stroke-dasharray="2.4 1.2" opacity="1"/></g>
<path d="M383.52 213.0v-1.1M383.52 16.6v1.1M385.40 213.0v-3.0M385.40 16.6v3.0M397.77 213.0v-1.1M397.77 16.6v1.1M405.01 213.0v-1.1M405.01 16.6v1.1M410.14 213.0v-1.1M410.14 16.6v1.1M414.13 213.0v-1.1M414.13 16.6v1.1M417.38 213.0v-1.1M417.38 16.6v1.1M420.13 213.0v-1.1M420.13 16.6v1.1M422.52 213.0v-1.1M422.52 16.6v1.1M424.62 213.0v-1.1M424.62 16.6v1.1M426.50 213.0v-3.0M426.50 16.6v3.0M438.87 213.0v-1.1M438.87 16.6v1.1M446.11 213.0v-1.1M446.11 16.6v1.1M451.24 213.0v-1.1M451.24 16.6v1.1M455.23 213.0v-1.1M455.23 16.6v1.1M458.48 213.0v-1.1M458.48 16.6v1.1M461.23 213.0v-1.1M461.23 16.6v1.1M463.62 213.0v-1.1M463.62 16.6v1.1M465.72 213.0v-1.1M465.72 16.6v1.1M467.60 213.0v-3.0M467.60 16.6v3.0M479.97 213.0v-1.1M479.97 16.6v1.1M487.21 213.0v-1.1M487.21 16.6v1.1M492.34 213.0v-1.1M492.34 16.6v1.1M496.33 213.0v-1.1M496.33 16.6v1.1M499.58 213.0v-1.1M499.58 16.6v1.1M502.33 213.0v-1.1M502.33 16.6v1.1M504.72 213.0v-1.1M504.72 16.6v1.1M506.82 213.0v-1.1M506.82 16.6v1.1M508.70 213.0v-3.0M508.70 16.6v3.0M521.07 213.0v-1.1M521.07 16.6v1.1M528.31 213.0v-1.1M528.31 16.6v1.1M533.44 213.0v-1.1M533.44 16.6v1.1M537.43 213.0v-1.1M537.43 16.6v1.1M540.68 213.0v-1.1M540.68 16.6v1.1M543.43 213.0v-1.1M543.43 16.6v1.1M382.8 205.50h3.0M544.7 205.50h-3.0M382.8 152.79h1.1M544.7 152.79h-1.1M382.8 121.96h1.1M544.7 121.96h-1.1M382.8 100.08h1.1M544.7 100.08h-1.1M382.8 83.11h1.1M544.7 83.11h-1.1M382.8 69.25h1.1M544.7 69.25h-1.1M382.8 57.52h1.1M544.7 57.52h-1.1M382.8 47.37h1.1M544.7 47.37h-1.1M382.8 38.41h1.1M544.7 38.41h-1.1M382.8 30.40h3.0M544.7 30.40h-3.0" stroke="#777" stroke-width="0.8" fill="none"/>
<rect x="382.8" y="16.6" width="161.9" height="196.4" fill="none" stroke="#6a6a6a" stroke-width="1"/>
<text x="386.2" y="27.2" font-family="Liberation Sans, Arial, sans-serif" font-weight="bold" font-size="10.6" fill="#444">c)</text>
<rect x="395.2" y="36.4" width="22.7" height="16.1" rx="2.6" fill="#fff" stroke="#aaa" stroke-width="0.9"/>
<text x="405.5" y="47.7" text-anchor="middle" font-family="Liberation Sans, Arial, sans-serif" font-size="10.3" fill="#505050" stroke="#505050" stroke-width="0.3" textLength="16.4" lengthAdjust="spacingAndGlyphs">HJ3</text>
<text x="384.80" y="225.8" text-anchor="middle" font-family="Liberation Serif, serif" font-size="10.8" fill="#444">10<tspan font-size="6.0" dy="-3.8" font-family="DejaVu Sans, sans-serif">−</tspan><tspan font-size="6.8">2</tspan></text>
<text x="425.90" y="225.8" text-anchor="middle" font-family="Liberation Serif, serif" font-size="10.8" fill="#444">10<tspan font-size="6.0" dy="-3.8" font-family="DejaVu Sans, sans-serif">−</tspan><tspan font-size="6.8">1</tspan></text>
<text x="466.40" y="225.8" text-anchor="middle" font-family="Liberation Serif, serif" font-size="10.8" fill="#444">10<tspan font-size="6.8" dy="-3.8">0</tspan></text>
<text x="507.50" y="225.8" text-anchor="middle" font-family="Liberation Serif, serif" font-size="10.8" fill="#444">10<tspan font-size="6.8" dy="-3.8">1</tspan></text>
<text x="463.75" y="237.8" text-anchor="middle" font-family="Liberation Sans, Arial, sans-serif" font-size="9.35" fill="#444">frequency [Hz]</text>
<text x="36.6" y="34.00" text-anchor="end" font-family="Liberation Serif, serif" font-size="10.8" fill="#444">10<tspan font-size="6.0" dy="-3.8" font-family="DejaVu Sans, sans-serif">−</tspan><tspan font-size="6.8">7</tspan></text>
<text x="36.6" y="209.10" text-anchor="end" font-family="Liberation Serif, serif" font-size="10.8" fill="#444">10<tspan font-size="6.0" dy="-3.8" font-family="DejaVu Sans, sans-serif">−</tspan><tspan font-size="6.8">8</tspan></text>
<text transform="translate(12.8 114.6) rotate(-90)" text-anchor="middle" font-family="Liberation Sans, Arial, sans-serif" font-size="9.6" fill="#444">rotation rate spectral density [rads<tspan font-family="DejaVu Sans, sans-serif" font-size="6.8" dy="-3.6">−1</tspan><tspan dy="3.6">Hz</tspan><tspan font-family="DejaVu Sans, sans-serif" font-size="6.8" dy="-3.6">−1/2</tspan><tspan dy="3.6">]</tspan></text>
<path d="M120 9.3h19.3" stroke="#ff7f0e" stroke-width="1.5"/>
<text x="146.0" y="12.4" font-family="Liberation Sans, Arial, sans-serif" font-size="9.8" fill="#444" textLength="26.7" lengthAdjust="spacingAndGlyphs">XB102</text>
<path d="M191 9.3h19.3" stroke="#2ca02c" stroke-width="1.5"/>
<text x="216.89999999999998" y="12.4" font-family="Liberation Sans, Arial, sans-serif" font-size="9.8" fill="#444" textLength="26.7" lengthAdjust="spacingAndGlyphs">XB101</text>
<path d="M261.3 9.3h19.3" stroke="#ff2896" stroke-width="1.5"/>
<text x="287.59999999999997" y="12.4" font-family="Liberation Sans, Arial, sans-serif" font-size="9.8" fill="#444" textLength="29.2" lengthAdjust="spacingAndGlyphs">XBLUE</text>
<path d="M336 9.3h19.3" stroke="#1e90ff" stroke-width="1.5"/>
<text x="360.9" y="12.4" font-family="Liberation Sans, Arial, sans-serif" font-size="9.8" fill="#444" textLength="16.8" lengthAdjust="spacingAndGlyphs">BS2</text>
<path d="M396.1 9.3h19.3" stroke="#daa520" stroke-width="1.5"/>
<text x="421.3" y="12.4" font-family="Liberation Sans, Arial, sans-serif" font-size="9.8" fill="#444" textLength="16.8" lengthAdjust="spacingAndGlyphs">BS1</text>
</svg></body></html>
